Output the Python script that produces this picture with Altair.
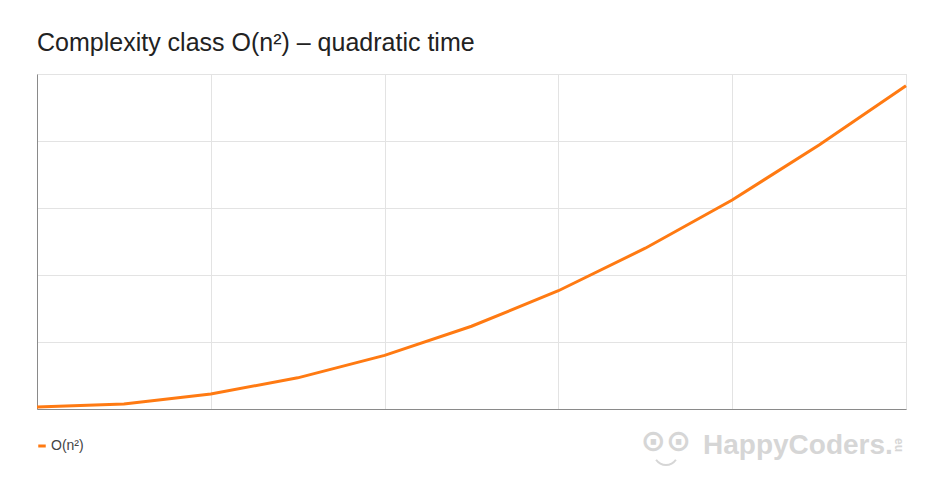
import altair as alt
import pandas as pd
import math

# ---- data ----
n_values = [0, 1, 2, 3, 4, 5, 6, 7, 8, 9, 10]
runtime = [0.6, 1.5, 4.5, 9.3, 16.0, 24.7, 35.3, 48.0, 62.4, 78.8, 96.5]
series_name = "O(n²)"
title_text = "Complexity class O(n²) – quadratic time"
x_grid = [0, 2, 4, 6, 8, 10]
y_grid = [0, 20, 40, 60, 80, 100]
brand = ["HappyCoders."]
brand_tld = ["eu"]
icon_eyes = ["⊙⊙"]

df = pd.DataFrame({"n": n_values, "t": runtime, "s": [series_name] * len(n_values)})

FONT = "Liberation Sans"
WM = "#d6d6d6"

line = alt.Chart(df).mark_line(strokeWidth=3).encode(
    x=alt.X("n:Q",
            scale=alt.Scale(domain=[0, 10], nice=False, zero=False),
            axis=alt.Axis(values=x_grid, labels=False, ticks=False, title=None,
                          domainColor="#8a8a8a", gridColor="#e3e3e3")),
    y=alt.Y("t:Q",
            scale=alt.Scale(domain=[0, 100], nice=False),
            axis=alt.Axis(values=y_grid, labels=False, ticks=False, title=None,
                          domainColor="#8a8a8a", gridColor="#e3e3e3")),
    color=alt.Color("s:N",
                    scale=alt.Scale(range=["#ff7a12"]),
                    legend=alt.Legend(orient="none", legendX=-2, legendY=365, title=None,
                                      padding=0, symbolType="stroke", symbolSize=56,
                                      symbolStrokeWidth=3, labelOffset=2,
                                      labelFont=FONT, labelFontSize=14, labelColor="#444444")),
)

wm = alt.Chart(pd.DataFrame({"label": brand})).mark_text(
    font=FONT, fontWeight="bold", fontSize=28, color=WM, align="left", baseline="alphabetic"
).encode(x=alt.value(666), y=alt.value(380), text="label:N")

wm2 = alt.Chart(pd.DataFrame({"label": brand_tld})).mark_text(
    font=FONT, fontWeight="bold", fontSize=12, color=WM, align="center", baseline="middle", angle=90
).encode(x=alt.value(862), y=alt.value(371), text="label:N")

eyes = alt.Chart(pd.DataFrame({"label": icon_eyes})).mark_text(
    font="DejaVu Sans", fontWeight="bold", fontSize=30, color=WM, align="center", baseline="middle"
).encode(x=alt.value(629), y=alt.value(368), text="label:N")

smile = alt.Chart(pd.DataFrame({"k": [0]})).mark_arc(
    color=WM, radius=13, radius2=11,
    theta=math.pi / 2 + 0.6, theta2=3 * math.pi / 2 - 0.6
).encode(x=alt.value(629), y=alt.value(379))

chart = alt.layer(line, wm, wm2, eyes, smile).properties(
    width=869, height=335,
    title=alt.TitleParams(title_text, anchor="start", frame="group", font=FONT, fontSize=25,
                          fontWeight="normal", color="#222222", baseline="alphabetic", offset=-2),
    autosize=alt.AutoSizeParams(type="none"),
    padding={"left": 29, "top": 66, "right": 30, "bottom": 69},
).configure_view(stroke=None).configure(background="white")

chart.save("out.html", embed_options={"renderer": "svg", "actions": False})
